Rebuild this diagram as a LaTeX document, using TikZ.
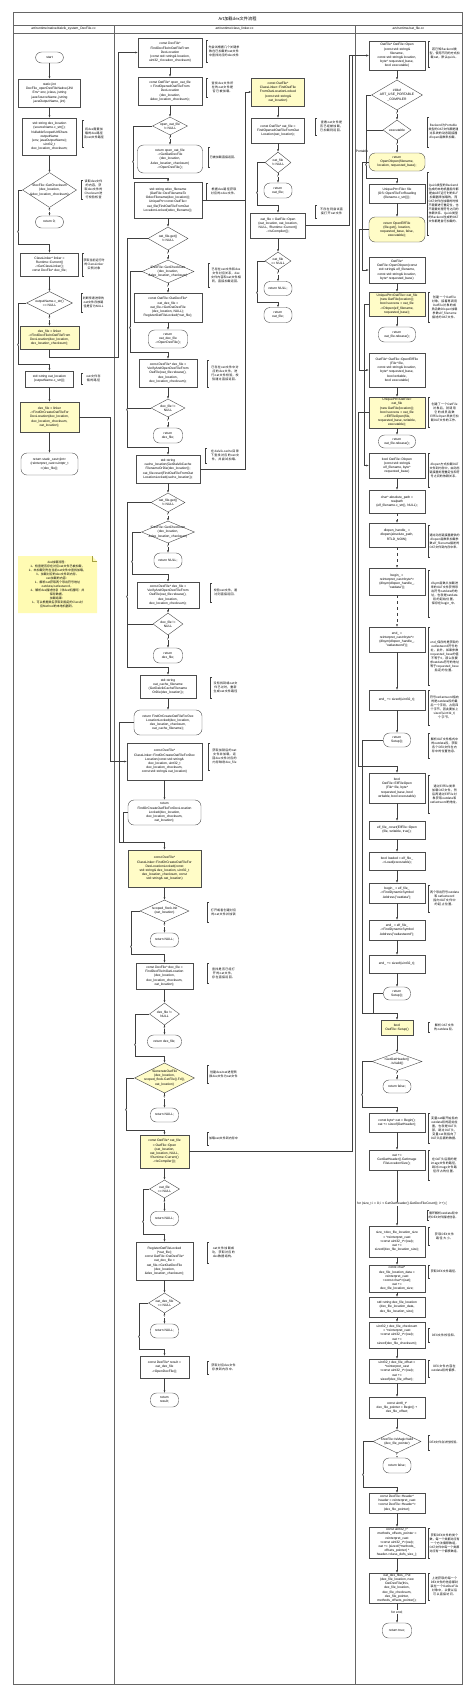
\documentclass[tikz,border=0pt]{standalone}
\usepackage{fontspec}
\setmainfont{Liberation Sans}
\newfontfamily\cjk{Noto Sans CJK SC}
\XeTeXlinebreaklocale "zh"
\XeTeXlinebreakskip=0pt plus 0.5pt
\usetikzlibrary{arrows.meta,shapes.geometric}
\newcommand{\fsz}{\fontsize{3.3}{4.2}\selectfont}
\newcommand{\nsz}{\cjk\fontsize{3}{4}\selectfont}
\tikzset{
  flow box/.style={draw=black!70,line width=0.4pt,fill=white,align=center,
    inner sep=0.8pt,font=\fsz},
  flow hot/.style={flow box,fill=yellow!22},
  flow end/.style={flow box,rounded corners=6pt},
  flow hotend/.style={flow end,fill=yellow!22},
  flow dia/.style={diamond,draw=black!70,line width=0.4pt,fill=white,inner sep=0pt},
  flow txt/.style={align=center,font=\fsz,inner sep=0pt},
  flow note/.style={align=center,font=\nsz,inner sep=0.3pt,text width=#1pt},
  flow line/.style={draw=black!75,line width=0.4pt},
  flow arr/.style={flow line,-{Latex[length=2.4pt,width=2pt]}},
  flow yn/.style={font=\fsz,fill=white,inner sep=0.2pt},
  flow lane/.style={draw=black!60,line width=0.5pt}
}
% bracket note: name, x, top, bottom, width, text
\newcommand{\flownote}[6]{%
  \draw[flow line] (#2+2,#3) -- (#2,#3) -- (#2,#4) -- (#2+2,#4);
  \node[flow note=#5,anchor=west] (#1) at (#2+1,{(#3+#4)/2}) {#6};}
% decision: name, x, y, width, height, text
\newcommand{\flowdia}[6]{%
  \node[flow dia,minimum width=#4,minimum height=#5] (#1) at (#2,#3) {};
  \node[flow txt] (#1t) at (#1) {#6};}
\begin{document}
\begin{tikzpicture}[x=1pt,y=-1pt]
  \useasboundingbox (0,0) rectangle (474,1695);
  % lanes
  \draw[flow lane] (13,12) rectangle (462,1684);
  \draw[flow lane] (13,25) -- (462,25) (13,33) -- (462,33);
  \draw[flow lane] (114,25) -- (114,1684) (355,25) -- (355,1684);
  \node[flow txt,font=\cjk\fontsize{4.2}{5}\selectfont] (title) at (237.5,18.5) {Art加载dex文件流程};
  \node[flow txt] (hleft) at (63.5,29) {art/runtime/native/dalvik\_system\_DexFile.cc};
  \node[flow txt] (hmid) at (234.5,29) {art/runtime/class\_linker.cc};
  \node[flow txt] (hright) at (408.5,29) {art/runtime/oat\_file.cc};

  % dalvik_system_DexFile.cc
  \node[flow end,minimum width=28,minimum height=11] (lstart) at (49.5,57.5) {start};
  \node[flow box,minimum width=62,minimum height=28] (l1) at (49.5,93) {static jint\\DexFile\_openDexFileNative(JNI\\Env* env, jclass, jstring\\javaSourceName, jstring\\javaOutputName, jint)};
  \node[flow box,minimum width=54,minimum height=37] (l2) at (49.5,136.5) {std::string dex\_location\\(sourceName.c\_str());\\NullableScopedUtfChars\\outputName\\(env, javaOutputName);\\uint32\_t\\dex\_location\_checksum;};
  \flowdia{ld1}{49.5}{190}{54}{35}{!DexFile::GetChecksum\\(dex\_location,\\\&dex\_location\_checksum)}
  \node[flow end,minimum width=28,minimum height=12] (lr0) at (49.5,222) {return 0;};
  \node[flow box,minimum width=58,minimum height=23] (l3) at (49.5,264.5) {ClassLinker* linker =\\Runtime::Current()\\->GetClassLinker();\\const DexFile* dex\_file;};
  \flowdia{ld2}{49.5}{303}{46}{23}{outputName.c\_str()\\== NULL}
  \node[flow hot,minimum width=59,minimum height=23] (l4) at (49.5,337.5) {dex\_file = linker\\->FindDexFileInOatFileFrom\\DexLocation(dex\_location,\\dex\_location\_checksum);};
  \node[flow box,minimum width=48,minimum height=16] (l5) at (49.5,379) {std::string oat\_location\\(outputName.c\_str());};
  \node[flow hot,minimum width=59,minimum height=30] (l6) at (49.5,417) {dex\_file = linker\\->FindOrCreateOatFileFor\\DexLocation(dex\_location,\\dex\_location\_checksum,\\oat\_location);};
  \node[flow end,minimum width=57,minimum height=22] (lr1) at (49.5,464) {return static\_cast<jint>\\(reinterpret\_cast<uintptr\_t\\>(dex\_file));};
  \flownote{ln1}{82}{120}{147}{21}{将dex需要加载的dex路径及oat文件路径}
  \flownote{ln2}{81}{180}{199}{22}{读取dex文件的内容，获取dex文件的Checksum进行校验核查}
  \flownote{ln3}{82}{253}{276}{21}{获取当前运行时的ClassLinker实例对象}
  \flownote{ln4}{81}{293}{312}{22}{判断传递进来的oat文件存放路径是否为NULL}
  \flownote{ln5}{81}{373}{384}{22}{oat文件存储的路径}
  \draw[flow arr] (lstart) -- (l1);
  \draw[flow arr] (l1) -- (l2);
  \draw[flow arr] (l2) -- (ld1);
  \draw[flow arr] (ld1) -- node[flow yn,pos=0.35] (ly1) {Y} (lr0);
  \draw[flow arr] (ld1.west) -- (18,190) |- (49.5,244) -- (l3.north);
  \node[flow yn] (lnn1) at (18,232) {N};
  \draw[flow arr] (l3) -- (ld2);
  \draw[flow arr] (ld2) -- node[flow yn,pos=0.35] (ly2) {Y} (l4);
  \draw[flow arr] (ld2.west) -- (18,303) |- (49.5,364) -- (l5.north);
  \node[flow yn] (lnn2) at (18,345) {N};
  \draw[flow arr] (l5) -- (l6);
  \draw[flow arr] (l6) -- (lr1);
  \fill[yellow!30] (18,556) -- (92,556) -- (97,561) -- (97,613) -- (18,613) -- cycle;
  \draw[yellow!60!black,line width=0.3pt] (92,556) -- (92,561) -- (97,561);
  \node[flow txt,font=\nsz] (lmemo) at (57.5,584.5) {dex加载流程：\\1、检查是否存在对应oat文件已被加载，\\2、未加载则先在当前oat文件中查找加载，\\3、加载对应的dex文件到内存。\\oat加载的内容：\\1、解析oat获取两个导出符号地址\\oatdata/oatlastword。\\2、解析dex描述信息（非dex机器码）并\\保存数据。\\加载结果：\\1、可以根据类名获取到指定的Class对\\应Method的本地机器码。};

  % class_linker.cc
  \node[flow box,minimum width=64,minimum height=29] (m1) at (170,52.5) {const DexFile*\\FindDexFileInOatFileFrom\\DexLocation\\(const std::string\& location,\\uint32\_t location\_checksum)};
  \node[flow box,minimum width=64,minimum height=28] (m2) at (170,91) {const OatFile* open\_oat\_file\\= FindOpenedOatFileFrom\\DexLocation\\(dex\_location,\\\&dex\_location\_checksum);};
  \flowdia{md1}{170}{126}{35}{18}{open\_oat\_file\\!= NULL}
  \node[flow end,minimum width=65,minimum height=28] (mr1) at (170,159) {return open\_oat\_file\\->GetOatDexFile\\(dex\_location,\\\&dex\_location\_checksum)\\->OpenDexFile();};
  \node[flow box,minimum width=68,minimum height=36] (m3) at (168,200) {std::string odex\_filename\\(OatFile::DexFilenameTo\\OdexFilename(dex\_location));\\UniquePtr<const OatFile>\\oat\_file(FindOatFileFromOat\\LocationLocked(odex\_filename));};
  \flowdia{md2}{168}{238.5}{40}{23}{oat\_file.get()\\!= NULL}
  \flowdia{md3}{168}{271.5}{52}{23}{!DexFile::GetChecksum\\(dex\_location,\\\&dex\_location\_checksum)}
  \node[flow box,minimum width=68,minimum height=29] (m4) at (168,307.5) {const OatFile::OatDexFile*\\oat\_dex\_file =\\oat\_file->GetOatDexFile\\(dex\_location, NULL);\\RegisterOatFileLocked(*oat\_file);};
  \node[flow end,minimum width=39,minimum height=18] (mr2) at (168,339) {return\\oat\_dex\_file\\->OpenDexFile();};
  \node[flow box,minimum width=58,minimum height=28] (m5) at (168,373) {const DexFile* dex\_file =\\VerifyAndOpenDexFileFrom\\OatFile(oat\_file.release(),\\dex\_location,\\dex\_location\_checksum);};
  \flowdia{md4}{168}{408}{34}{18}{dex\_file !=\\NULL}
  \node[flow end,minimum width=29,minimum height=15] (mr3) at (168,435.5) {return\\dex\_file;};
  \node[flow box,minimum width=64,minimum height=28] (m6) at (168,469) {std::string\\cache\_location(GetDalvikCache\\FilenameOrDie(dex\_location));\\oat\_file.reset(FindOatFileFromOat\\LocationLocked(cache\_location));};
  \flowdia{md5}{168}{502.5}{34}{19}{oat\_file.get()\\!= NULL}
  \flowdia{md6}{168}{532}{53}{22}{!DexFile::GetChecksum\\(dex\_location,\\\&dex\_location\_checksum)}
  \node[flow end,minimum width=28,minimum height=15] (mr4) at (168,560.5) {return NULL;};
  \node[flow box,minimum width=62,minimum height=26] (m7) at (168,595) {const DexFile* dex\_file =\\VerifyAndOpenDexFileFrom\\OatFile(oat\_file.release(),\\dex\_location,\\dex\_location\_checksum);};
  \flowdia{md7}{168}{624}{30}{22}{dex\_file !=\\NULL}
  \node[flow end,minimum width=29,minimum height=15] (mr5) at (168,655.5) {return\\dex\_file;};
  \node[flow box,minimum width=56,minimum height=23] (m8) at (168,686.5) {std::string\\oat\_cache\_filename\\(GetDalvikCacheFilename\\OrDie(dex\_location));};
  \node[flow end,minimum width=68,minimum height=25] (mr6) at (168,722.5) {return FindOrCreateOatFileForDex\\LocationLocked(dex\_location,\\dex\_location\_checksum,\\oat\_cache\_filename);};
  \node[flow box,minimum width=75,minimum height=37] (m9) at (164.5,761.5) {const DexFile*\\ClassLinker::FindOrCreateOatFileForDex\\Location(const std::string\&\\dex\_location, uint32\_t\\dex\_location\_checksum,\\const std::string\& oat\_location)};
  \node[flow end,minimum width=73,minimum height=25] (mr7) at (164.5,812.5) {return\\FindOrCreateOatFileForDexLocation\\Locked(dex\_location,\\dex\_location\_checksum,\\oat\_location);};
  \node[flow hot,minimum width=73,minimum height=37] (my2) at (164.5,868.5) {const DexFile*\\ClassLinker::FindOrCreateOatFileFor\\DexLocationLocked(const\\std::string\& dex\_location, uint32\_t\\dex\_location\_checksum, const\\std::string\& oat\_location)};
  \flowdia{md8}{164.5}{911}{49}{22}{!scoped\_flock.Init\\(oat\_location)}
  \node[flow end,minimum width=28,minimum height=14] (mr8) at (164.5,940) {return NULL;};
  \node[flow box,minimum width=57,minimum height=26] (m10) at (164.5,976) {const DexFile* dex\_file =\\FindDexFileInOatLocation\\(dex\_location,\\dex\_location\_checksum,\\oat\_location);};
  \flowdia{md9}{164.5}{1014}{30}{22}{dex\_file !=\\NULL}
  \node[flow end,minimum width=34,minimum height=13] (mr9) at (164.5,1041.5) {return dex\_file;};
  \node[flow dia,fill=yellow!22,minimum width=60,minimum height=30] (md10) at (164.5,1078) {};
  \node[flow txt] (md10t) at (md10) {!GenerateOatFile\\(dex\_location,\\scoped\_flock.GetFile().Fd(),\\oat\_location)};
  \node[flow end,minimum width=28,minimum height=14] (mr10) at (164.5,1115) {return NULL;};
  \node[flow hot,minimum width=49,minimum height=33] (my3) at (164.5,1151.5) {const OatFile* oat\_file\\= OatFile::Open\\(oat\_location,\\oat\_location, NULL,\\!Runtime::Current()\\->IsCompiler());};
  \flowdia{md11}{164.5}{1189}{30}{18}{oat\_file\\== NULL}
  \node[flow end,minimum width=28,minimum height=14] (mr11) at (164.5,1218.5) {return NULL;};
  \node[flow box,minimum width=57,minimum height=38] (m11) at (164.5,1261) {RegisterOatFileLocked\\(*oat\_file);\\const OatFile::OatDexFile*\\oat\_dex\_file =\\oat\_file->GetOatDexFile\\(dex\_location,\\\&dex\_location\_checksum);};
  \flowdia{md12}{164.5}{1303}{32}{20}{oat\_dex\_file\\== NULL}
  \node[flow end,minimum width=28,minimum height=14] (mr12) at (164.5,1331) {return NULL;};
  \node[flow box,minimum width=49,minimum height=22] (m12) at (164.5,1367) {const DexFile* result =\\oat\_dex\_file\\->OpenDexFile();};
  \node[flow end,minimum width=28,minimum height=14] (mr13) at (164.5,1400) {return\\result;};
  \node[flow hot,minimum width=53,minimum height=28] (y1) at (278,92) {const OatFile*\\ClassLinker::FindOatFile\\FromOatLocationLocked\\(const std::string\&\\oat\_location)};
  \node[flow box,minimum width=53,minimum height=25] (y1a) at (278,130.5) {const OatFile* oat\_file =\\FindOpenedOatFileFromOat\\Location(oat\_location);};
  \flowdia{y1d1}{278}{162.5}{26}{21}{oat\_file\\!= NULL}
  \node[flow end,minimum width=28,minimum height=15] (y1r1) at (278,190.5) {return\\oat\_file;};
  \node[flow box,minimum width=55,minimum height=25] (y1b) at (278,225.5) {oat\_file = OatFile::Open\\(oat\_location, oat\_location,\\NULL, !Runtime::Current()\\->IsCompiler());};
  \flowdia{y1d2}{278}{261}{26}{18}{oat\_file\\== NULL}
  \node[flow end,minimum width=28,minimum height=14] (y1r2) at (278,288.5) {return NULL;};
  \node[flow end,minimum width=28,minimum height=15] (y1r3) at (278,315) {return\\oat\_file;};
  \flownote{mn1}{206}{40}{62}{33}{先尝试根据几个关键参数在已加载的oat文件中查找对应的dex文件}
  \flownote{mn2}{206}{78}{97}{30}{查找dex文件所在的oat文件是否已被加载。}
  \flownote{mn3}{208}{147}{167}{28}{已被加载直接返回。}
  \flownote{mn4}{206}{183}{200}{33}{根据dex路径获取对应的odex文件。}
  \flownote{mn5}{208}{263}{287}{33}{已存在oat文件和dex文件对应关系，dex文件内容和oat文件相同，直接加载返回。}
  \flownote{mn6}{207}{360}{387}{33}{已存在oat文件中对应的dex文件，进行oat文件校验，校验通过直接返回。}
  \flownote{mn7}{205}{448}{463}{37}{在dalvik-cache目录下查找对应的oat文件，并尝试加载。}
  \flownote{mn8}{210}{583}{602}{28}{校验oat文件，通过则直接返回。}
  \flownote{mn9}{210}{677}{698}{28}{没有找到或oat文件已过时，重新生成oat文件路径}
  \flownote{mn10}{208}{743}{770}{30}{获取加锁后的oat文件并加载，返回dex文件对应的内存映射dex\_file}
  \flownote{mn11}{207}{902}{922}{30}{打开或者创建对应的oat文件并加锁}
  \flownote{mn12}{207}{963}{983}{30}{查找是否已经打开的oat文件，存在直接返回。}
  \flownote{mn13}{207}{1065}{1083}{30}{创建dex2oat进程转换dex文件为oat文件}
  \flownote{mn14}{207}{1132}{1145}{30}{加载oat文件到内存中}
  \flownote{mn15}{207}{1242}{1263}{30}{oat文件加载成功，获取对应的dex数据结构。}
  \flownote{mn16}{207}{1361}{1374}{30}{获取对应dex文件存放到内存中。}
  \flownote{yn1}{315}{118}{135}{30}{查看oat文件是否已经被加载，已加载则返回。}
  \flownote{yn2}{315}{205}{218}{30}{不存在则尝试直接打开oat文件}
  \draw[flow arr] (m1) -- (m2);
  \draw[flow arr] (m2) -- (md1);
  \draw[flow arr] (md1) -- node[flow yn,pos=0.3] (my1) {Y} (mr1);
  \draw[flow arr] (md1.west) -- (133,126) |- (168,178) -- (m3.north);
  \node[flow yn] (mnn1) at (133,162) {N};
  \draw[flow arr] (m3) -- (md2);
  \draw[flow arr] (m3.east) -- (245,200) -- (245,92) -- (y1.west);
  \draw[flow arr] (md2) -- node[flow yn,pos=0.35] (myy2) {Y} (md3);
  \draw[flow arr] (md2.west) -- (127,238.5) |- (168,447) -- (m6.north);
  \node[flow yn] (mnn2) at (127,410) {N};
  \draw[flow arr] (md3) -- node[flow yn,pos=0.35] (myy3) {Y} (m4);
  \draw[flow arr] (md3.west) -- (130,271.5) |- (168,352) -- (m5.north);
  \node[flow yn] (mnn3) at (130,328) {N};
  \draw[flow arr] (m4) -- (mr2);
  \draw[flow arr] (m5) -- (md4);
  \draw[flow arr] (md4) -- node[flow yn,pos=0.3] (myy4) {Y} (mr3);
  \draw[flow line] (md4.west) -- (127,408);
  \draw[flow arr] (m6) -- (md5);
  \draw[flow line] (m6.east) -- (245,469) -- (245,200);
  \draw[flow arr] (md5) -- node[flow yn,pos=0.3] (myy5) {Y} (md6);
  \draw[flow arr] (md5.west) -- (127,502.5) |- (168,667) -- (m8.north);
  \node[flow yn] (mnn5) at (127,597) {N};
  \draw[flow arr] (md6) -- node[flow yn,pos=0.3] (myy6) {Y} (mr4);
  \draw[flow arr] (md6.west) -- (132,532) |- (168,574) -- (m7.north);
  \node[flow yn] (mnn6) at (132,562) {N};
  \draw[flow arr] (m7) -- (md7);
  \draw[flow arr] (md7) -- node[flow yn,pos=0.3] (myy7) {Y} (mr5);
  \draw[flow line] (md7.west) -- (127,624);
  \draw[flow arr] (m8) -- (mr6);
  \draw[flow arr] (mr6.west) -- (119,722.5) |- (164.5,842) -- (my2.north);
  \draw[flow arr] (m9) -- (mr7);
  \draw[flow line] (mr7.west) -- (123,812.5) |- (164.5,842);
  \draw[flow arr] (my2) -- (md8);
  \draw[flow arr] (md8) -- node[flow yn,pos=0.3] (myy8) {Y} (mr8);
  \draw[flow arr] (md8.west) -- (131,911) |- (164.5,954) -- (m10.north);
  \node[flow yn] (mnn8) at (131,947) {N};
  \draw[flow arr] (m10) -- (md9);
  \draw[flow arr] (md9) -- node[flow yn,pos=0.3] (myy9) {Y} (mr9);
  \draw[flow arr] (md9.west) -- (135,1014) |- (164.5,1056) -- (md10.north);
  \node[flow yn] (mnn9) at (135,1045) {N};
  \draw[flow arr] (md10) -- node[flow yn,pos=0.3] (myy10) {Y} (mr10);
  \draw[flow arr] (md10.west) -- (126,1078) |- (164.5,1130) -- (my3.north);
  \node[flow yn] (mnn10) at (126,1110) {N};
  \draw[flow arr] (my3) -- (md11);
  \draw[flow arr] (md11) -- node[flow yn,pos=0.3] (myy11) {Y} (mr11);
  \draw[flow arr] (md11.west) -- (143,1189) |- (164.5,1234) -- (m11.north);
  \node[flow yn] (mnn11) at (143,1222) {N};
  \draw[flow arr] (m11) -- (md12);
  \draw[flow arr] (md12) -- node[flow yn,pos=0.3] (myy12) {Y} (mr12);
  \draw[flow arr] (md12.west) -- (139,1303) |- (164.5,1349) -- (m12.north);
  \node[flow yn] (mnn12) at (139,1337) {N};
  \draw[flow arr] (m12) -- (mr13);
  \draw[flow arr] (y1) -- (y1a);
  \draw[flow arr] (y1a) -- (y1d1);
  \draw[flow arr] (y1d1) -- node[flow yn,pos=0.3] (yyy1) {Y} (y1r1);
  \draw[flow arr] (y1d1.west) -- (257,162.5) |- (278,205) -- (y1b.north);
  \node[flow yn] (ynn1) at (257,193) {N};
  \draw[flow arr] (y1b) -- (y1d2);
  \draw[flow arr] (y1d2) -- node[flow yn,pos=0.3] (yyy2) {Y} (y1r2);
  \draw[flow arr] (y1d2.west) -- (257,261) |- (278,302) -- (y1r3.north);
  \node[flow yn] (ynn2) at (257,293) {N};

  % oat_file.cc
  \node[flow box,minimum width=56,minimum height=29] (o1) at (397,55.5) {OatFile* OatFile::Open\\(const std::string\&\\filename,\\const std::string\& location,\\byte* requested\_base,\\bool executable)};
  \flowdia{od1}{397}{95}{51}{30}{\#ifdef\\ART\_USE\_PORTABLE\\\_COMPILER}
  \flowdia{od2}{397}{130}{28}{20}{executable}
  \node[flow hotend,minimum width=56,minimum height=18] (o4) at (397,162) {return\\OpenDlopen(filename,\\location, requested\_base);};
  \node[flow box,minimum width=56,minimum height=19] (o5) at (397,193.5) {UniquePtr<File> file\\(OS::OpenFileForReading\\(filename.c\_str()));};
  \node[flow hotend,minimum width=56,minimum height=25] (o6) at (397,229.5) {return OpenElfFile\\(file.get(), location,\\requested\_base, false,\\executable);};
  \node[flow box,minimum width=56,minimum height=26] (o7) at (397,270) {OatFile*\\OatFile::OpenDlopen(const\\std::string\& elf\_filename,\\const std::string\& location,\\byte* requested\_base)};
  \node[flow hot,minimum width=56,minimum height=24] (o8) at (397,304) {UniquePtr<OatFile> oat\_file\\(new OatFile(location));\\bool success = oat\_file\\->Dlopen(elf\_filename,\\requested\_base);};
  \node[flow end,minimum width=37,minimum height=15] (o9) at (397,334.5) {return\\oat\_file.release();};
  \node[flow box,minimum width=56,minimum height=34] (o10) at (397,370) {OatFile* OatFile::OpenElfFile\\(File* file,\\const std::string\& location,\\byte* requested\_base,\\bool writable,\\bool executable)};
  \node[flow hot,minimum width=56,minimum height=31] (o11) at (397,412.5) {UniquePtr<OatFile>\\oat\_file\\(new OatFile(location));\\bool success = oat\_file\\->ElfFileOpen(file,\\requested\_base, writable,\\executable);};
  \node[flow end,minimum width=37,minimum height=13] (o12) at (397,441.5) {return\\oat\_file.release();};
  \node[flow box,minimum width=56,minimum height=25] (o13) at (397,465.5) {bool OatFile::Dlopen\\(const std::string\&\\elf\_filename, byte*\\requested\_base)};
  \node[flow box,minimum width=56,minimum height=23] (o14) at (397,501.5) {char* absolute\_path =\\realpath\\(elf\_filename.c\_str(), NULL);};
  \node[flow box,minimum width=56,minimum height=24] (o15) at (397,535) {dlopen\_handle\_ =\\dlopen(absolute\_path,\\RTLD\_NOW);};
  \node[flow box,minimum width=56,minimum height=27] (o16) at (397,581.5) {begin\_ =\\reinterpret\_cast<byte*>\\(dlsym(dlopen\_handle\_,\\"oatdata"));};
  \node[flow box,minimum width=56,minimum height=25] (o17) at (397,639.5) {end\_ =\\reinterpret\_cast<byte*>\\(dlsym(dlopen\_handle\_,\\"oatlastword"));};
  \node[flow box,minimum width=56,minimum height=20] (o18) at (397,700) {end\_ += sizeof(uint32\_t);};
  \node[flow end,minimum width=27,minimum height=14] (o19) at (397,740) {return\\Setup();};
  \node[flow box,minimum width=56,minimum height=30] (o20) at (397,788) {bool\\OatFile::ElfFileOpen\\(File* file, byte*\\requested\_base, bool\\writable, bool executable)};
  \node[flow box,minimum width=56,minimum height=18] (o21) at (397,830) {elf\_file\_.reset(ElfFile::Open\\(file, writable, true));};
  \node[flow box,minimum width=56,minimum height=18] (o22) at (397,861) {bool loaded = elf\_file\_\\->Load(executable);};
  \node[flow box,minimum width=56,minimum height=20] (o23) at (397,893) {begin\_ = elf\_file\_\\->FindDynamicSymbol\\Address("oatdata");};
  \node[flow box,minimum width=56,minimum height=20] (o24) at (397,930) {end\_ = elf\_file\_\\->FindDynamicSymbol\\Address("oatlastword");};
  \node[flow box,minimum width=56,minimum height=18] (o25) at (397,964) {end\_ += sizeof(uint32\_t);};
  \node[flow end,minimum width=27,minimum height=13] (o26) at (397,993.5) {return\\Setup();};
  \node[flow hot,minimum width=32,minimum height=15] (o27) at (397,1027.5) {bool\\OatFile::Setup()};
  \flowdia{od3}{397}{1061.5}{50}{18}{!GetOatHeader()\\.IsValid()}
  \node[flow end,minimum width=28,minimum height=13] (or1) at (397,1086.5) {return false;};
  \node[flow box,minimum width=56,minimum height=19] (o28) at (397,1122.5) {const byte* oat = Begin();\\oat += sizeof(OatHeader);};
  \node[flow box,minimum width=56,minimum height=20] (o29) at (397,1160) {oat +=\\GetOatHeader().GetImage\\FileLocationSize();};
  \node[flow box,minimum width=56,minimum height=31] (o30) at (397,1241.5) {size\_t dex\_file\_location\_size\\= *reinterpret\_cast\\<const uint32\_t*>(oat);\\oat +=\\sizeof(dex\_file\_location\_size);};
  \node[flow box,minimum width=56,minimum height=27] (o31) at (397,1278.5) {const char*\\dex\_file\_location\_data =\\reinterpret\_cast\\<const char*>(oat);\\oat +=\\dex\_file\_location\_size;};
  \node[flow box,minimum width=56,minimum height=20] (o32) at (397,1307) {std::string dex\_file\_location\\(dex\_file\_location\_data,\\dex\_file\_location\_size);};
  \node[flow box,minimum width=56,minimum height=26] (o33) at (397,1335) {uint32\_t dex\_file\_checksum\\= *reinterpret\_cast\\<const uint32\_t*>(oat);\\oat +=\\sizeof(dex\_file\_checksum);};
  \node[flow box,minimum width=56,minimum height=24] (o34) at (397,1371) {uint32\_t dex\_file\_offset =\\*reinterpret\_cast\\<const uint32\_t*>(oat);\\oat +=\\sizeof(dex\_file\_offset);};
  \node[flow box,minimum width=56,minimum height=21] (o35) at (397,1407.5) {const uint8\_t*\\dex\_file\_pointer = Begin() +\\dex\_file\_offset;};
  \flowdia{od4}{397}{1441.5}{48}{23}{!DexFile::IsMagicValid\\(dex\_file\_pointer)}
  \node[flow end,minimum width=28,minimum height=15] (or2) at (397,1465.5) {return false;};
  \node[flow box,minimum width=56,minimum height=20] (o37) at (397,1503) {const DexFile::Header*\\header = reinterpret\_cast\\<const DexFile::Header*>\\(dex\_file\_pointer);};
  \node[flow box,minimum width=56,minimum height=31] (o38) at (397,1542.5) {const uint32\_t*\\methods\_offsets\_pointer =\\reinterpret\_cast\\<const uint32\_t*>(oat);\\oat += (sizeof(*methods\_\\offsets\_pointer) *\\header->class\_defs\_size\_);};
  \node[flow box,minimum width=56,minimum height=30] (o39) at (397,1588) {oat\_dex\_files\_.Put\\(dex\_file\_location, new\\OatDexFile(this,\\dex\_file\_location,\\dex\_file\_checksum,\\dex\_file\_pointer,\\methods\_offsets\_pointer));};
  \node[flow txt,fill=white,inner sep=0.6pt] (oend) at (397,1612) {for end;};
  \node[flow end,minimum width=29,minimum height=15] (or3) at (397,1630.5) {return true;};
  \node[flow txt] (oport) at (362,151) {Portable};
  \flownote{on1}{428}{41}{67}{30}{若已知Backend类型，使用不同的方式加载oat，默认quick。}
  \flownote{on2}{427}{117}{147}{30}{Backend为Portable类型的OAT文件都是通过系统的动态链接器dlopen函数来加载。}
  \flownote{on3}{427}{172}{235}{30}{Quick类型的Backend生成的本地机器指令都是由ART运行时的ELF加载器来加载的，而OAT文件在加载的时候不需要进行重定位，也不需要处理符号之间的依赖关系。Quick类型的Backend生成的OAT文件都是自行加载的。}
  \flownote{on4}{428}{292}{322}{30}{创建一个OatFile对象，接着再调用OatFile对象的成员函数Dlopen加载参数elf\_filename描述的OAT文件。}
  \flownote{on5}{428}{397}{427}{30}{创建了一个OatFile对象后，就调用它的成员函数ElfFileOpen来执行加载OAT文件的工作。}
  \flownote{on6}{428}{453}{487}{30}{dlopen方式加载OAT文件到内存中，由动态链接器处理重定位和符号之间的依赖关系。}
  \flownote{on7}{428}{525}{557}{30}{通过动态链接器提供的dlopen函数来加载参数elf\_filename描述的OAT文件到内存中来。}
  \flownote{on8}{428}{570}{617}{30}{dlsym函数从加载进来的OAT文件获得导出符号oatdata的地址，也就是oatdata段的起始位置，保存在begin\_中。}
  \flownote{on9}{428}{627}{685}{30}{end\_保存的是获取的oatlastword符号地址，此外，如果参数requested\_base的值不等于0，那么就要求oatdata符号的地址等于requested\_base指定的位置。}
  \flownote{on10}{428}{690}{725}{30}{符号oatlastword指向的是oatdata段的最后一个字段，占用四个字节，因此要加上sizeof(uint32\_t)个字节。}
  \flownote{on11}{428}{733}{758}{30}{解析OAT文件格式中的oatdata段，获取各个DEX文件在内存中的位置信息。}
  \flownote{on12}{428}{775}{813}{30}{通过ElfFile类来加载OAT文件，然后再通过ElfFile对象获取oatdata和oatlastword的地址。}
  \flownote{on13}{428}{885}{912}{30}{两个导出符号oatdata和oatlastword指向OAT文件中的起止位置。}
  \flownote{on14}{428}{1022}{1032}{30}{解析OAT文件的oatdata段。}
  \flownote{on15}{428}{1113}{1143}{30}{变量oat最开始指向oatdata段的起始位置，也就是OAT头部，跳过OAT头，变量oat就指向了OAT头后面的数据。}
  \flownote{on16}{428}{1150}{1180}{30}{在OAT头后面的是image文件的路径，跳过image文件路径所占的位置。}
  \flownote{on17}{427}{1210}{1220}{30}{循环解析oatdata段中的DEX文件描述信息。}
  \flownote{on18}{428}{1227}{1245}{30}{获取DEX文件路径大小。}
  \flownote{on19}{428}{1265}{1278}{30}{获取DEX文件路径。}
  \flownote{on20}{428}{1328}{1342}{30}{DEX文件校验和。}
  \flownote{on21}{428}{1360}{1377}{30}{DEX文件内容在oatdata段的偏移。}
  \flownote{on22}{428}{1435}{1450}{30}{DEX文件合法性检验。}
  \flownote{on23}{428}{1528}{1558}{30}{获取DEX文件的类个数，每一个类都对应有一个方法偏移数组，OAT文件中每一个类都对应有一个偏移数组。}
  \flownote{on24}{428}{1573}{1600}{30}{上述获取的每一个DEX文件的信息都封装在一个OatDexFile对象中，以便以后可以直接访问。}
  \draw[flow arr] (o1) -- (od1);
  \draw[flow arr] (od1) -- node[flow yn,pos=0.3] (oy1) {Y} (od2);
  \draw[flow arr] (od2) -- node[flow yn,pos=0.3] (oy2) {Y} (o4);
  \draw[flow arr] (od1.west) -- (366,95) |- (397,178) -- (o5.north);
  \draw[flow line] (od2.west) -- (366,130);
  \node[flow yn] (onn1) at (366,165) {N};
  \draw[flow arr] (o4.west) -- (362,162) |- (o7.west);
  \draw[flow arr] (o5) -- (o6);
  \draw[flow arr] (o6.west) -- (359,229.5) |- (o10.west);
  \draw[flow arr] (o7) -- (o8);
  \draw[flow arr] (o8) -- (o9);
  \draw[flow arr] (o8.west) -- (364,304) |- (o13.west);
  \draw[flow arr] (o10) -- (o11);
  \draw[flow arr] (o11) -- (o12);
  \draw[flow arr] (o11.west) -- (358,412.5) |- (397,766) -- (o20.north);
  \draw[flow arr] (o13) -- (o14);
  \draw[flow arr,dashed] (o14) -- (o15);
  \draw[flow arr,dashed] (o15) -- (o16);
  \draw[flow arr,dashed] (o16) -- (o17);
  \draw[flow arr] (o17) -- (o18);
  \draw[flow arr] (o18) -- (o19);
  \draw[flow arr] (o19.west) -- (362,740) |- (397,1013) -- (o27.north);
  \draw[flow arr] (o20) -- (o21);
  \draw[flow arr] (o21) -- (o22);
  \draw[flow arr] (o22) -- (o23);
  \draw[flow arr] (o23) -- (o24);
  \draw[flow arr] (o24) -- (o25);
  \draw[flow arr] (o25) -- (o26);
  \draw[flow line] (o26.west) -- (373,993.5) |- (397,1013);
  \draw[flow arr] (o27) -- (od3);
  \draw[flow arr] (od3) -- node[flow yn,pos=0.3] (oy3) {Y} (or1);
  \draw[flow arr] (od3.west) -- (362,1061.5) |- (397,1107) -- (o28.north);
  \node[flow yn] (onn3) at (362,1095) {N};
  \draw[flow arr] (o28) -- (o29);
  \draw[flow arr] (o29) -- (o30);
  \node[flow txt,fill=white,inner sep=0.8pt] (ofor) at (402,1204) {for (size\_t i = 0; i < GetOatHeader().GetDexFileCount(); i++) \{};
  \draw[flow arr] (o30) -- (o31);
  \draw[flow arr] (o31) -- (o32);
  \draw[flow arr] (o32) -- (o33);
  \draw[flow arr] (o33) -- (o34);
  \draw[flow arr] (o34) -- (o35);
  \draw[flow arr] (o35) -- (od4);
  \draw[flow arr] (od4) -- node[flow yn,pos=0.3] (oy4) {Y} (or2);
  \draw[flow arr] (od4.west) -- (363,1441.5) |- (397,1487) -- (o37.north);
  \node[flow yn] (onn4) at (363,1475) {N};
  \draw[flow arr] (o37) -- (o38);
  \draw[flow arr] (o38) -- (o39);
  \draw[flow line] (o39) -- (oend);
  \draw[flow arr] (oend) -- (or3);

  % calls across files
  \draw[flow arr] (l4.south) -- (49.5,357) -- (118,357) -- (118,52.5) -- (m1.west);
  \draw[flow arr] (l6.east) -- (110,417) -- (110,761.5) -- (m9.west);
  \draw[flow arr] (y1b.east) -- (349,225.5) -- (349,55.5) -- (o1.west);
  \draw[flow arr] (my3.east) -- (352,1151.5) -- (352,55.5) -- (o1.west);
\end{tikzpicture}
\end{document}
